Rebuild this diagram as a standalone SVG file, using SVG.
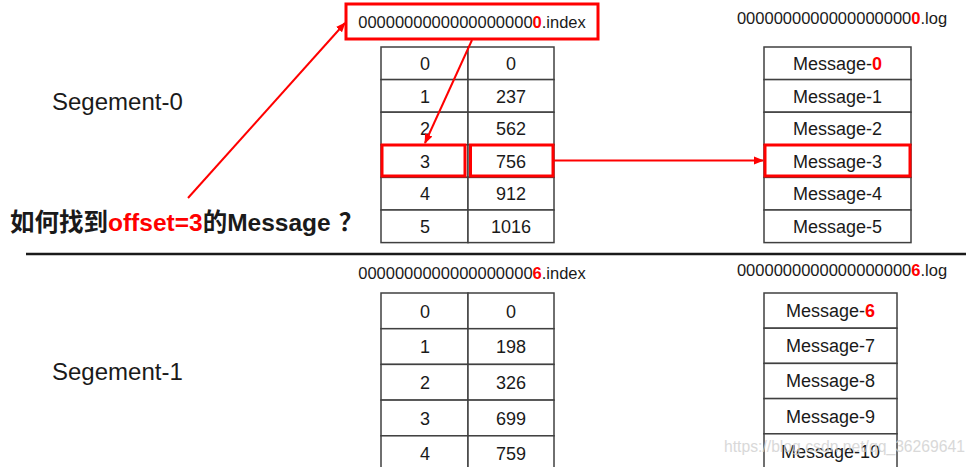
<svg xmlns="http://www.w3.org/2000/svg" width="974" height="467" viewBox="0 0 974 467">
<style>
text{font-family:"Liberation Sans",Arial,"Noto Sans CJK SC",sans-serif;fill:#1a1a1a}
.cell{fill:#fff;stroke:#404040;stroke-width:1.5}
.num{font-size:18px;text-anchor:middle}
.fname{font-size:16.5px;text-anchor:middle}
.seg{font-size:24px}
.red{fill:#ff0000;font-weight:bold}
.hl{fill:none;stroke:#ff0000;stroke-width:3}
.conn{stroke:#ff0000;stroke-width:2;fill:none}
</style>
<defs>
<marker id="ah" viewBox="0 0 10 10" refX="9" refY="5" markerWidth="5" markerHeight="5" orient="auto" markerUnits="strokeWidth">
<path d="M0,1 L10,5 L0,9 z" fill="#ff0000"/>
</marker>
</defs>
<rect width="974" height="467" fill="#fff"/>

<g id="segment0-label"><text class="seg" x="52" y="110">Segement-0</text></g>
<g id="segment1-label"><text class="seg" x="52" y="380">Segement-1</text></g>

<g id="question"><text x="10" y="231" font-size="24.5" font-weight="bold" style="font-family:'Liberation Sans','Noto Sans CJK SC',sans-serif">如何找到<tspan class="red">offset=3</tspan>的Message<tspan dx="8" style="font-family:'Noto Sans CJK SC',sans-serif">？</tspan></text></g>

<g id="separator"><line x1="26" y1="254" x2="966" y2="254" stroke="#1a1a1a" stroke-width="2.5"/></g>

<g id="index0-label">
<rect x="346" y="4" width="252" height="35" class="hl"/>
<text class="fname" x="472" y="28">0000000000000000000<tspan class="red">0</tspan>.index</text>
</g>

<g id="index0-table">
<rect class="cell" x="381" y="47" width="87" height="32.6"/><rect class="cell" x="468" y="47" width="86" height="32.6"/>
<rect class="cell" x="381" y="79.6" width="87" height="32.6"/><rect class="cell" x="468" y="79.6" width="86" height="32.6"/>
<rect class="cell" x="381" y="112.2" width="87" height="32.6"/><rect class="cell" x="468" y="112.2" width="86" height="32.6"/>
<rect class="cell" x="381" y="144.8" width="87" height="32.6"/><rect class="cell" x="468" y="144.8" width="86" height="32.6"/>
<rect class="cell" x="381" y="177.4" width="87" height="32.6"/><rect class="cell" x="468" y="177.4" width="86" height="32.6"/>
<rect class="cell" x="381" y="210" width="87" height="32.6"/><rect class="cell" x="468" y="210" width="86" height="32.6"/>
<text class="num" x="425" y="70">0</text><text class="num" x="511" y="70">0</text>
<text class="num" x="425" y="102.6">1</text><text class="num" x="511" y="102.6">237</text>
<text class="num" x="425" y="135.2">2</text><text class="num" x="511" y="135.2">562</text>
<text class="num" x="425" y="167.8">3</text><text class="num" x="511" y="167.8">756</text>
<text class="num" x="425" y="200.4">4</text><text class="num" x="511" y="200.4">912</text>
<text class="num" x="425" y="233">5</text><text class="num" x="511" y="233">1016</text>
<rect class="hl" x="382" y="145" width="83" height="31"/>
<rect class="hl" x="470.5" y="145" width="82.5" height="31"/>
</g>

<g id="log0-label"><text class="fname" x="842" y="24">0000000000000000000<tspan class="red">0</tspan>.log</text></g>

<g id="log0-table">
<rect class="cell" x="764" y="47" width="147" height="32.6"/>
<rect class="cell" x="764" y="79.6" width="147" height="32.6"/>
<rect class="cell" x="764" y="112.2" width="147" height="32.6"/>
<rect class="cell" x="764" y="144.8" width="147" height="32.6"/>
<rect class="cell" x="764" y="177.4" width="147" height="32.6"/>
<rect class="cell" x="764" y="210" width="147" height="32.6"/>
<text class="num" x="837.5" y="70">Message-<tspan class="red">0</tspan></text>
<text class="num" x="837.5" y="102.6">Message-1</text>
<text class="num" x="837.5" y="135.2">Message-2</text>
<text class="num" x="837.5" y="167.8">Message-3</text>
<text class="num" x="837.5" y="200.4">Message-4</text>
<text class="num" x="837.5" y="233">Message-5</text>
<rect class="hl" x="765" y="145" width="145" height="31"/>
</g>

<g id="index1-label"><text class="fname" x="472" y="279">0000000000000000000<tspan class="red">6</tspan>.index</text></g>

<g id="index1-table">
<rect class="cell" x="381" y="293" width="87" height="35.7"/><rect class="cell" x="468" y="293" width="86" height="35.7"/>
<rect class="cell" x="381" y="328.7" width="87" height="35.7"/><rect class="cell" x="468" y="328.7" width="86" height="35.7"/>
<rect class="cell" x="381" y="364.4" width="87" height="35.7"/><rect class="cell" x="468" y="364.4" width="86" height="35.7"/>
<rect class="cell" x="381" y="400.1" width="87" height="35.7"/><rect class="cell" x="468" y="400.1" width="86" height="35.7"/>
<rect class="cell" x="381" y="435.8" width="87" height="35.7"/><rect class="cell" x="468" y="435.8" width="86" height="35.7"/>
<text class="num" x="425" y="317.5">0</text><text class="num" x="511" y="317.5">0</text>
<text class="num" x="425" y="353.2">1</text><text class="num" x="511" y="353.2">198</text>
<text class="num" x="425" y="388.9">2</text><text class="num" x="511" y="388.9">326</text>
<text class="num" x="425" y="424.6">3</text><text class="num" x="511" y="424.6">699</text>
<text class="num" x="425" y="460.3">4</text><text class="num" x="511" y="460.3">759</text>
</g>

<g id="log1-label"><text class="fname" x="842" y="276">0000000000000000000<tspan class="red">6</tspan>.log</text></g>

<g id="log1-table">
<rect class="cell" x="764" y="293" width="133" height="35.2"/>
<rect class="cell" x="764" y="328.2" width="133" height="35.2"/>
<rect class="cell" x="764" y="363.4" width="133" height="35.2"/>
<rect class="cell" x="764" y="398.6" width="133" height="35.2"/>
<rect class="cell" x="764" y="433.8" width="133" height="35.2"/>
<text class="num" x="830.5" y="317">Message-<tspan class="red">6</tspan></text>
<text class="num" x="830.5" y="352.2">Message-7</text>
<text class="num" x="830.5" y="387.4">Message-8</text>
<text class="num" x="830.5" y="422.6">Message-9</text>
<text class="num" x="830.5" y="457.8">Message-10</text>
</g>

<g id="connectors">
<line class="conn" x1="188" y1="198" x2="345" y2="23" marker-end="url(#ah)"/>
<line class="conn" x1="472" y1="40" x2="425" y2="143" marker-end="url(#ah)"/>
<line class="conn" x1="554" y1="160.5" x2="763" y2="160.5" marker-end="url(#ah)"/>
</g>

<g id="watermark"><text x="724" y="452" font-size="16" textLength="241" lengthAdjust="spacingAndGlyphs" style="fill:#d0d0d0;opacity:0.8">https://blog.csdn.net/qq_36269641</text></g>
</svg>
